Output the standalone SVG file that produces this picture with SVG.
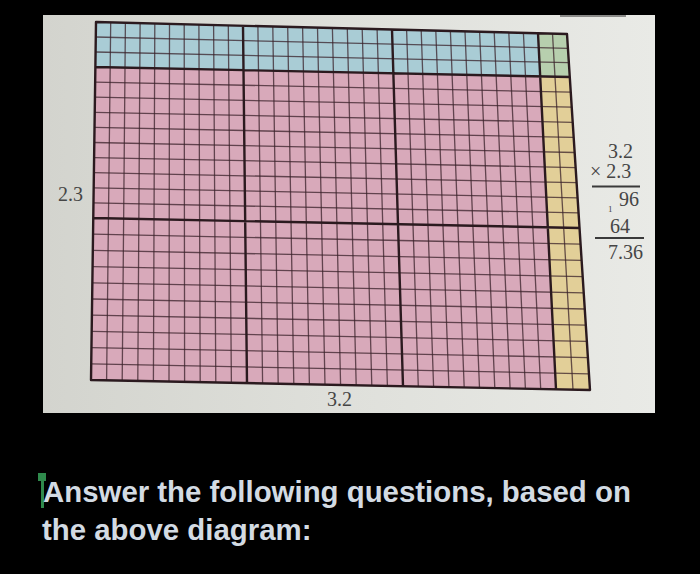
<svg xmlns="http://www.w3.org/2000/svg" width="700" height="574" viewBox="0 0 700 574">
<defs>
<linearGradient id="paper" x1="0" y1="0" x2="1" y2="0">
<stop offset="0" stop-color="#d3d4ce"/>
<stop offset="0.5" stop-color="#dfe0db"/>
<stop offset="1" stop-color="#e9eae6"/>
</linearGradient>
<style>
.thin{fill:none;stroke:#3a2229;stroke-width:1.3;stroke-opacity:0.75}
.thick{fill:none;stroke:#2b1a1f;stroke-width:2.4;stroke-linejoin:round}
.ptxt{font-family:"Liberation Serif",serif;font-size:20px;fill:#454545}
.ans{font-family:"Liberation Sans",Arial,sans-serif;font-weight:bold;font-size:29.4px;fill:#d3dbe3}
</style>
</defs>
<rect x="0" y="0" width="700" height="574" fill="#000"/>
<g id="photo">
<rect x="43" y="15" width="612" height="398" fill="url(#paper)"/>
<line x1="560" y1="16" x2="626" y2="16" stroke="#8a8a88" stroke-width="2"/>
</g>
<g id="grid">
<polygon id="pink" points="95.4,67 540.2,76.4 556,389.3 91,380" fill="#d8a9ba"/>
<polygon id="blue" points="96,22 538,33.3 540.2,76.4 95.4,67" fill="#a9ccd5"/>
<polygon id="green" points="538,33.3 567,34 569.8,77 540.2,76.4" fill="#b7cfae"/>
<polygon id="yellow" points="540.2,76.4 569.8,77 590,390 556,389.3" fill="#e2cf98"/>
<path class="thin" d="M110.7 22.4L106.6 380.3M125.4 22.7L122.2 380.6M140.1 23.1L137.8 380.9M154.8 23.5L153.4 381.2M169.5 23.9L169 381.6M184.2 24.2L184.6 381.9M198.9 24.6L200.2 382.2M213.6 25L215.8 382.5M228.3 25.4L231.4 382.8M257.9 26.1L262.6 383.4M272.8 26.5L278.2 383.7M287.7 26.9L293.8 384M302.6 27.3L309.4 384.4M317.5 27.6L325 384.7M332.4 28L340.6 385M347.3 28.4L356.2 385.3M362.2 28.8L371.8 385.6M377.1 29.2L387.4 385.9M406.6 29.9L418.3 386.5M421.2 30.3L433.6 386.8M435.8 30.6L448.9 387.2M450.4 31L464.2 387.5M465 31.4L479.5 387.8M479.6 31.8L494.8 388.1M494.2 32.1L510.1 388.4M508.8 32.5L525.4 388.7M523.4 32.9L540.7 389M552.5 33.6L573 389.6"/>
<path class="thin" d="M95.8 37L567.9 48.3M95.6 52L568.9 62.7M95.2 82.1L570.8 92.1M95 97.2L571.7 107.2M94.7 112.3L572.7 122.3M94.5 127.4L573.7 137.4M94.3 142.5L574.7 152.5M94.1 157.6L575.6 167.6M93.9 172.7L576.6 182.7M93.7 187.8L577.6 197.8M93.5 202.9L578.6 212.9M93 234.2L580.6 244.2M92.8 250.4L581.6 260.4M92.6 266.6L582.7 276.6M92.4 282.8L583.7 292.8M92.1 299L584.8 309M91.9 315.2L585.8 325.2M91.7 331.4L586.9 341.4M91.5 347.6L587.9 357.6M91.2 363.8L589 373.8"/>
<path class="thick" d="M96 22L567 34L590 390L91 380ZM243 25.7L247 383.1M392 29.5L403 386.2M538 33.3L556 389.3M95.4 67L569.8 77M93.3 218L579.5 228"/>
</g>
<g id="labels">
<text class="ptxt" x="58" y="201">2.3</text>
<text class="ptxt" x="327" y="406">3.2</text>
</g>
<g id="calculation">
<text class="ptxt" x="608" y="158">3.2</text>
<text class="ptxt" x="590" y="178">× 2.3</text>
<line x1="592" y1="186.5" x2="640" y2="186.5" stroke="#3a3a3a" stroke-width="2"/>
<text class="ptxt" x="619" y="206">96</text>
<text class="ptxt" x="608" y="212" style="font-size:9px">1</text>
<text class="ptxt" x="610" y="233">64</text>
<line x1="595" y1="238" x2="644" y2="238" stroke="#3a3a3a" stroke-width="2"/>
<text class="ptxt" x="608" y="259">7.36</text>
</g>
<g id="caption">
<rect x="38" y="473" width="8" height="8" fill="#2f8a4c"/>
<rect x="41" y="480" width="3" height="28" fill="#2f8a4c"/>
<text class="ans" x="43" y="502">Answer the following questions, based on</text>
<text class="ans" x="42" y="540">the above diagram:</text>
</g>
</svg>
